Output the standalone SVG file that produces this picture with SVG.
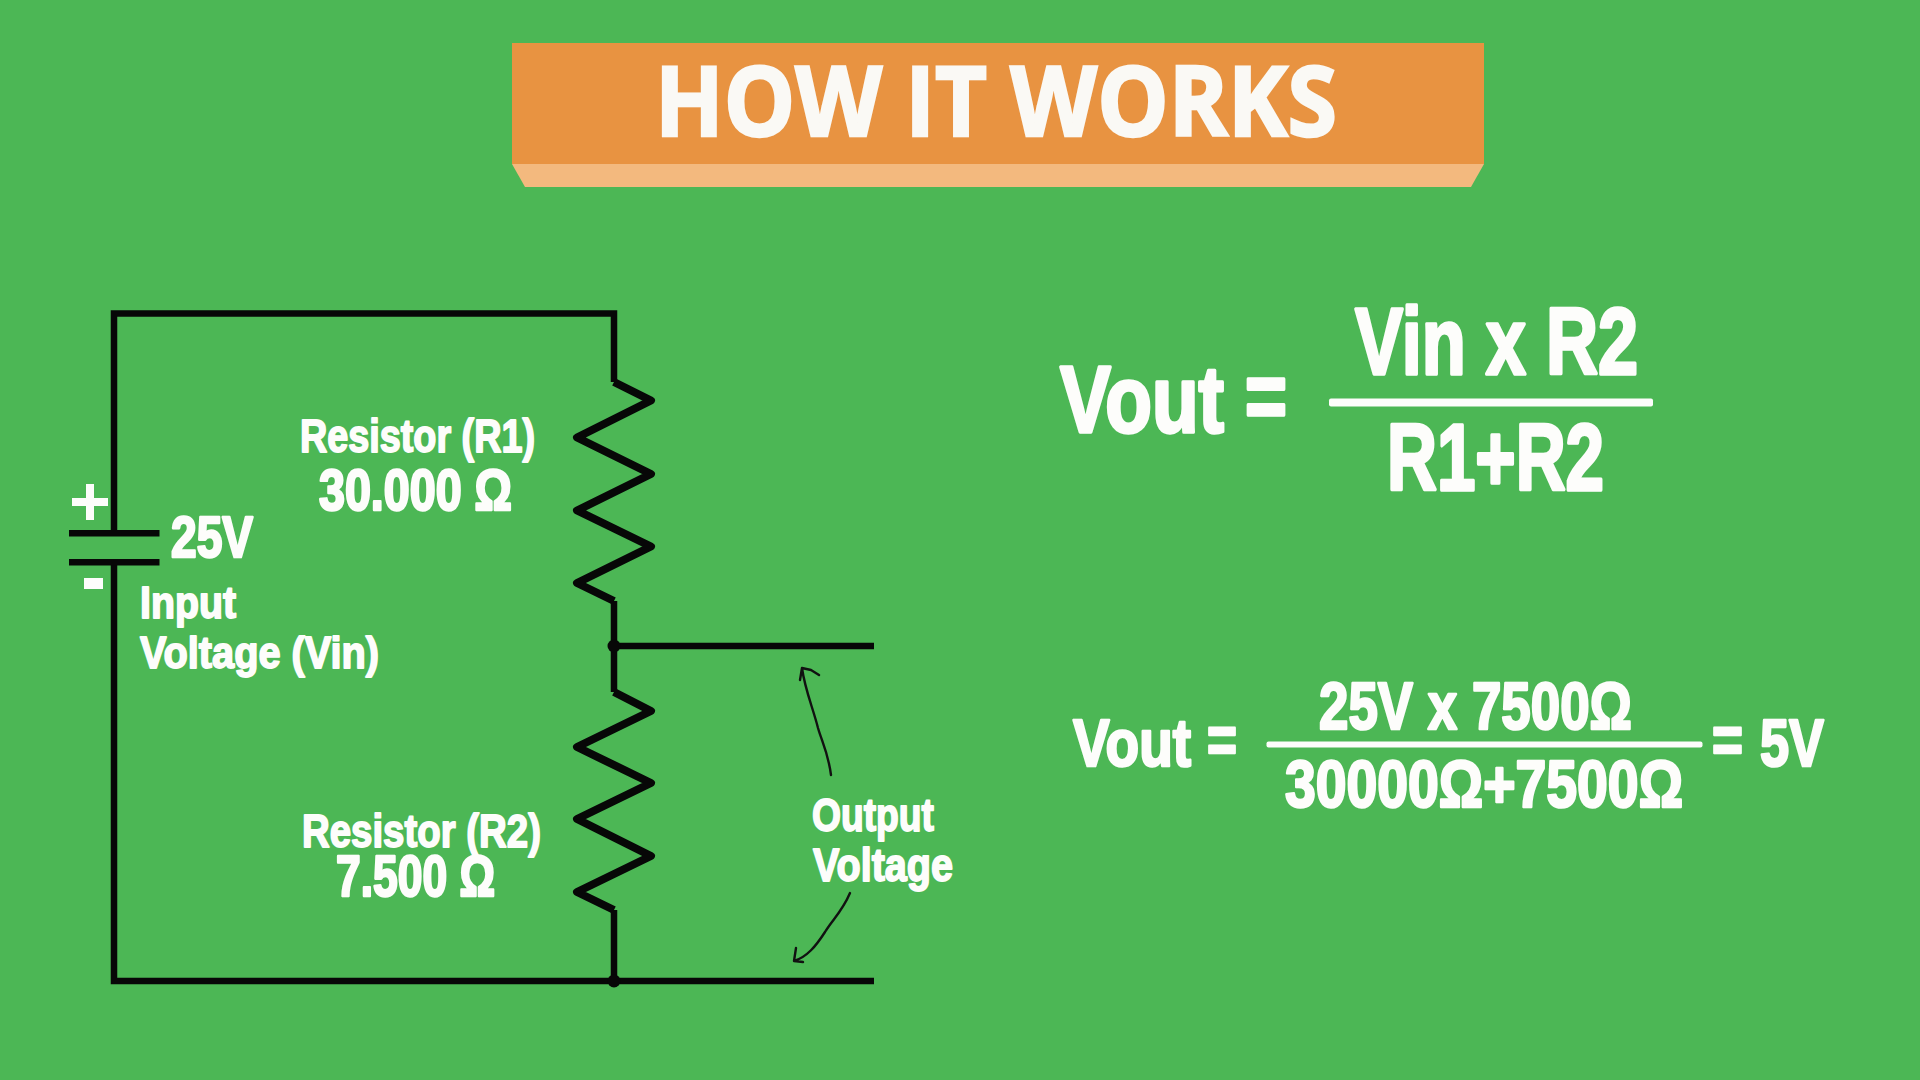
<svg xmlns="http://www.w3.org/2000/svg" width="1920" height="1080" viewBox="0 0 1920 1080">
<style>
.t{font-family:"Liberation Sans",Arial,sans-serif;font-weight:700;fill:#fdfdfb;stroke:#fdfdfb;stroke-width:1.800;stroke-linejoin:round}
.m{stroke-width:2.600}
.l{stroke-width:3.400}
.w{fill:none;stroke:#070707;stroke-width:6.500;stroke-linejoin:miter}
.z{fill:none;stroke:#070707;stroke-width:8;stroke-linejoin:round}
.a{fill:none;stroke:#111;stroke-width:2.400;stroke-linecap:round;stroke-linejoin:round}
.bar{fill:#fdfdfb}
</style>
<rect id="background" width="1920" height="1080" fill="#4cb755"/>
<g id="banner">
<polygon points="512,164 1484,164 1471,187 525,187" fill="#f3b97e"/>
<rect x="512" y="43" width="972" height="121" fill="#e89341"/>
<text x="655" y="136" font-size="96" textLength="682" lengthAdjust="spacingAndGlyphs" style="font-family:'Open Sans',sans-serif;font-weight:700;fill:#faf9f5;stroke:#faf9f5;stroke-width:2.500">HOW IT WORKS</text>
</g>
<g id="connectors">
<path class="w" d="M114 533V313.500H614V382"/>
<path class="z" d="M614 382L651 400.500L577 437.500L651 474L577 510.500L651 546.500L577 583L614 601"/>
<path class="w" d="M614 601V692"/>
<path class="z" d="M614 692L651 711L577 747L651 783L577 819L651 856L577 892L614 910"/>
<path class="w" d="M614 910V981"/>
<path class="w" d="M114 562V981H874"/>
<path class="w" d="M614 646H874"/>
<circle cx="614" cy="646" r="6.500" fill="#070707"/>
<circle cx="614" cy="981" r="6.500" fill="#070707"/>
<path class="a" d="M831 775C828 752 822 742 818 728C813 708 805 690 802 668M802 668L811 670L819 675M802 668L800 680"/>
<path class="a" d="M850 893C842 912 832 920 825 932C816 946 807 957 794 961M794 961L796 948M794 961L803 962"/>
</g>
<g id="battery">
<rect x="69" y="530" width="90.500" height="6.500" fill="#070707"/>
<rect x="69" y="559" width="90.500" height="6.500" fill="#070707"/>
<rect x="72" y="498" width="36" height="8" fill="#fdfdfb"/>
<rect x="86" y="484" width="8" height="36" fill="#fdfdfb"/>
<rect x="84" y="578" width="19" height="11" fill="#fdfdfb"/>
<text class="t m" x="171" y="557" font-size="57" textLength="82" lengthAdjust="spacingAndGlyphs">25V</text>
<text class="t" x="140" y="618" font-size="45" textLength="96" lengthAdjust="spacingAndGlyphs">Input</text>
<text class="t" x="140" y="668" font-size="45" textLength="239" lengthAdjust="spacingAndGlyphs">Voltage (Vin)</text>
</g>
<g id="r1">
<text class="t" x="300" y="452" font-size="46" textLength="235" lengthAdjust="spacingAndGlyphs">Resistor (R1)</text>
<text class="t m" x="319" y="510" font-size="57" textLength="193" lengthAdjust="spacingAndGlyphs">30.000 Ω</text>
</g>
<g id="r2">
<text class="t" x="302" y="847" font-size="46" textLength="239" lengthAdjust="spacingAndGlyphs">Resistor (R2)</text>
<text class="t m" x="336" y="896" font-size="58" textLength="159" lengthAdjust="spacingAndGlyphs">7.500 Ω</text>
</g>
<g id="output">
<text class="t" x="812" y="831" font-size="46" textLength="122" lengthAdjust="spacingAndGlyphs">Output</text>
<text class="t" x="813" y="881" font-size="46" textLength="140" lengthAdjust="spacingAndGlyphs">Voltage</text>
</g>
<g id="formula">
<text class="t l" x="1060" y="432" font-size="94" textLength="164" lengthAdjust="spacingAndGlyphs">Vout</text>
<text class="t l" x="1245" y="428" font-size="94" textLength="42" lengthAdjust="spacingAndGlyphs">=</text>
<text class="t l" x="1355" y="374" font-size="95" textLength="283" lengthAdjust="spacingAndGlyphs">Vin x R2</text>
<rect class="bar" x="1329" y="398.500" width="324" height="8" rx="2"/>
<text class="t l" x="1387" y="490" font-size="95" textLength="217" lengthAdjust="spacingAndGlyphs">R1+R2</text>
</g>
<g id="calculation">
<text class="t m" x="1073" y="766" font-size="67" textLength="118" lengthAdjust="spacingAndGlyphs">Vout</text>
<text class="t m" x="1207" y="763" font-size="67" textLength="30" lengthAdjust="spacingAndGlyphs">=</text>
<text class="t m" x="1319" y="729" font-size="67" textLength="313" lengthAdjust="spacingAndGlyphs">25V x 7500Ω</text>
<rect class="bar" x="1266.500" y="741.500" width="436" height="6" rx="2"/>
<text class="t m" x="1285" y="807" font-size="67" textLength="398" lengthAdjust="spacingAndGlyphs">30000Ω+7500Ω</text>
<text class="t m" x="1712" y="763" font-size="67" textLength="31" lengthAdjust="spacingAndGlyphs">=</text>
<text class="t m" x="1760" y="766" font-size="67" textLength="64" lengthAdjust="spacingAndGlyphs">5V</text>
</g>
</svg>
